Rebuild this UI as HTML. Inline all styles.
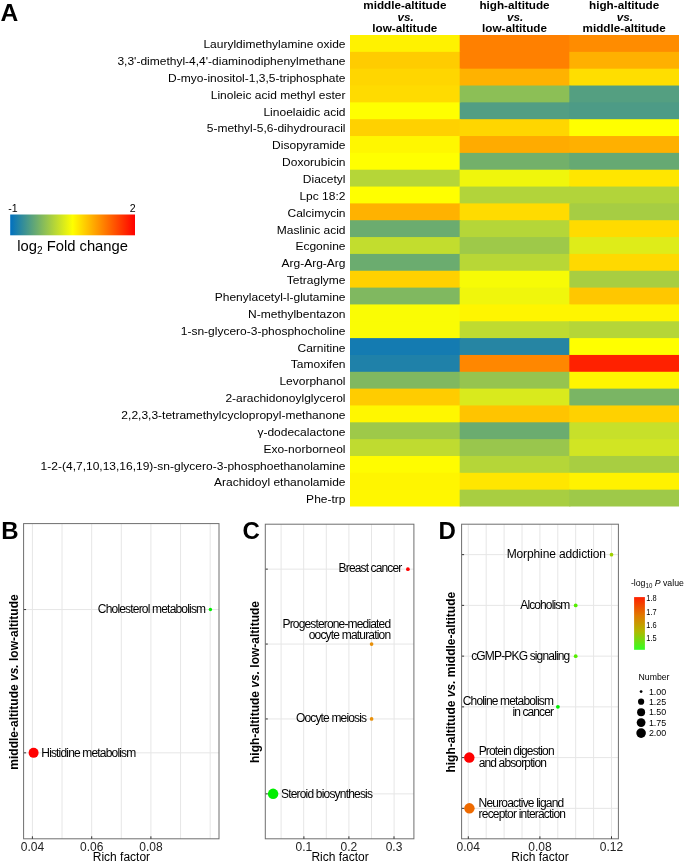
<!DOCTYPE html>
<html><head><meta charset="utf-8"><title>Figure</title>
<style>html,body{margin:0;padding:0;background:#fff;}svg{display:block;}text{font-family:"Liberation Sans", Arial, Helvetica, sans-serif;}</style>
</head><body>
<svg width="685" height="863" viewBox="0 0 685 863">
<rect width="685" height="863" fill="#fff"/>
<text x="0.60" y="21.00" font-size="24.6" font-weight="bold">A</text>
<text x="404.83" y="9.20" font-size="11.7" text-anchor="middle" font-weight="bold">middle-altitude</text>
<text x="405.53" y="21.20" font-size="11.7" text-anchor="middle" font-weight="bold" font-style="italic">vs.</text>
<text x="404.83" y="31.70" font-size="11.7" text-anchor="middle" font-weight="bold">low-altitude</text>
<text x="514.50" y="9.20" font-size="11.7" text-anchor="middle" font-weight="bold">high-altitude</text>
<text x="515.20" y="21.20" font-size="11.7" text-anchor="middle" font-weight="bold" font-style="italic">vs.</text>
<text x="514.50" y="31.70" font-size="11.7" text-anchor="middle" font-weight="bold">low-altitude</text>
<text x="624.17" y="9.20" font-size="11.7" text-anchor="middle" font-weight="bold">high-altitude</text>
<text x="624.87" y="21.20" font-size="11.7" text-anchor="middle" font-weight="bold" font-style="italic">vs.</text>
<text x="624.17" y="31.70" font-size="11.7" text-anchor="middle" font-weight="bold">middle-altitude</text>
<rect x="350.00" y="35.00" width="110.67" height="17.84" fill="#fff200"/>
<rect x="459.67" y="35.00" width="110.67" height="17.84" fill="#ff8000"/>
<rect x="569.33" y="35.00" width="109.67" height="17.84" fill="#ff8c00"/>
<rect x="350.00" y="51.84" width="110.67" height="17.84" fill="#ffcc00"/>
<rect x="459.67" y="51.84" width="110.67" height="17.84" fill="#ff8000"/>
<rect x="569.33" y="51.84" width="109.67" height="17.84" fill="#ffb000"/>
<rect x="350.00" y="68.68" width="110.67" height="17.84" fill="#ffd600"/>
<rect x="459.67" y="68.68" width="110.67" height="17.84" fill="#ffb200"/>
<rect x="569.33" y="68.68" width="109.67" height="17.84" fill="#ffde00"/>
<rect x="350.00" y="85.52" width="110.67" height="17.84" fill="#ffdb00"/>
<rect x="459.67" y="85.52" width="110.67" height="17.84" fill="#8cbf56"/>
<rect x="569.33" y="85.52" width="109.67" height="17.84" fill="#549f81"/>
<rect x="350.00" y="102.36" width="110.67" height="17.84" fill="#ffff00"/>
<rect x="459.67" y="102.36" width="110.67" height="17.84" fill="#529e83"/>
<rect x="569.33" y="102.36" width="109.67" height="17.84" fill="#4d9b86"/>
<rect x="350.00" y="119.20" width="110.67" height="17.84" fill="#ffd100"/>
<rect x="459.67" y="119.20" width="110.67" height="17.84" fill="#ffd600"/>
<rect x="569.33" y="119.20" width="109.67" height="17.84" fill="#ffff00"/>
<rect x="350.00" y="136.04" width="110.67" height="17.84" fill="#fff700"/>
<rect x="459.67" y="136.04" width="110.67" height="17.84" fill="#ffab00"/>
<rect x="569.33" y="136.04" width="109.67" height="17.84" fill="#ffb000"/>
<rect x="350.00" y="152.88" width="110.67" height="17.84" fill="#ffff00"/>
<rect x="459.67" y="152.88" width="110.67" height="17.84" fill="#73b06a"/>
<rect x="569.33" y="152.88" width="109.67" height="17.84" fill="#66a973"/>
<rect x="350.00" y="169.71" width="110.67" height="17.84" fill="#b5d638"/>
<rect x="459.67" y="169.71" width="110.67" height="17.84" fill="#f0f60c"/>
<rect x="569.33" y="169.71" width="109.67" height="17.84" fill="#ffe600"/>
<rect x="350.00" y="186.55" width="110.67" height="17.84" fill="#ffff00"/>
<rect x="459.67" y="186.55" width="110.67" height="17.84" fill="#b2d43a"/>
<rect x="569.33" y="186.55" width="109.67" height="17.84" fill="#b2d43a"/>
<rect x="350.00" y="203.39" width="110.67" height="17.84" fill="#ffb200"/>
<rect x="459.67" y="203.39" width="110.67" height="17.84" fill="#ffdb00"/>
<rect x="569.33" y="203.39" width="109.67" height="17.84" fill="#a6cd43"/>
<rect x="350.00" y="220.23" width="110.67" height="17.84" fill="#6bac6f"/>
<rect x="459.67" y="220.23" width="110.67" height="17.84" fill="#b5d638"/>
<rect x="569.33" y="220.23" width="109.67" height="17.84" fill="#ffdb00"/>
<rect x="350.00" y="237.07" width="110.67" height="17.84" fill="#c2dd2e"/>
<rect x="459.67" y="237.07" width="110.67" height="17.84" fill="#9ec949"/>
<rect x="569.33" y="237.07" width="109.67" height="17.84" fill="#deec19"/>
<rect x="350.00" y="253.91" width="110.67" height="17.84" fill="#6bac6f"/>
<rect x="459.67" y="253.91" width="110.67" height="17.84" fill="#b8d736"/>
<rect x="569.33" y="253.91" width="109.67" height="17.84" fill="#ffd900"/>
<rect x="350.00" y="270.75" width="110.67" height="17.84" fill="#ffd100"/>
<rect x="459.67" y="270.75" width="110.67" height="17.84" fill="#f7fb06"/>
<rect x="569.33" y="270.75" width="109.67" height="17.84" fill="#a8ce41"/>
<rect x="350.00" y="287.59" width="110.67" height="17.84" fill="#80b860"/>
<rect x="459.67" y="287.59" width="110.67" height="17.84" fill="#f0f60c"/>
<rect x="569.33" y="287.59" width="109.67" height="17.84" fill="#ffc700"/>
<rect x="350.00" y="304.43" width="110.67" height="17.84" fill="#fafc04"/>
<rect x="459.67" y="304.43" width="110.67" height="17.84" fill="#fff500"/>
<rect x="569.33" y="304.43" width="109.67" height="17.84" fill="#fff500"/>
<rect x="350.00" y="321.27" width="110.67" height="17.84" fill="#fafc04"/>
<rect x="459.67" y="321.27" width="110.67" height="17.84" fill="#bfdb30"/>
<rect x="569.33" y="321.27" width="109.67" height="17.84" fill="#b5d638"/>
<rect x="350.00" y="338.11" width="110.67" height="17.84" fill="#147bb1"/>
<rect x="459.67" y="338.11" width="110.67" height="17.84" fill="#2685a3"/>
<rect x="569.33" y="338.11" width="109.67" height="17.84" fill="#ffff00"/>
<rect x="350.00" y="354.95" width="110.67" height="17.84" fill="#1f81a9"/>
<rect x="459.67" y="354.95" width="110.67" height="17.84" fill="#ff8700"/>
<rect x="569.33" y="354.95" width="109.67" height="17.84" fill="#ff2100"/>
<rect x="350.00" y="371.79" width="110.67" height="17.84" fill="#80b860"/>
<rect x="459.67" y="371.79" width="110.67" height="17.84" fill="#96c44f"/>
<rect x="569.33" y="371.79" width="109.67" height="17.84" fill="#fff500"/>
<rect x="350.00" y="388.62" width="110.67" height="17.84" fill="#ffcc00"/>
<rect x="459.67" y="388.62" width="110.67" height="17.84" fill="#d9ea1d"/>
<rect x="569.33" y="388.62" width="109.67" height="17.84" fill="#7ab564"/>
<rect x="350.00" y="405.46" width="110.67" height="17.84" fill="#fff700"/>
<rect x="459.67" y="405.46" width="110.67" height="17.84" fill="#ffc400"/>
<rect x="569.33" y="405.46" width="109.67" height="17.84" fill="#ffd100"/>
<rect x="350.00" y="422.30" width="110.67" height="17.84" fill="#9ec949"/>
<rect x="459.67" y="422.30" width="110.67" height="17.84" fill="#6bac6f"/>
<rect x="569.33" y="422.30" width="109.67" height="17.84" fill="#c7e02a"/>
<rect x="350.00" y="439.14" width="110.67" height="17.84" fill="#bfdb30"/>
<rect x="459.67" y="439.14" width="110.67" height="17.84" fill="#99c64d"/>
<rect x="569.33" y="439.14" width="109.67" height="17.84" fill="#d1e523"/>
<rect x="350.00" y="455.98" width="110.67" height="17.84" fill="#fffc00"/>
<rect x="459.67" y="455.98" width="110.67" height="17.84" fill="#b5d638"/>
<rect x="569.33" y="455.98" width="109.67" height="17.84" fill="#a8ce41"/>
<rect x="350.00" y="472.82" width="110.67" height="17.84" fill="#fff500"/>
<rect x="459.67" y="472.82" width="110.67" height="17.84" fill="#ffe600"/>
<rect x="569.33" y="472.82" width="109.67" height="17.84" fill="#fff200"/>
<rect x="350.00" y="489.66" width="110.67" height="16.84" fill="#fff700"/>
<rect x="459.67" y="489.66" width="110.67" height="16.84" fill="#a8ce41"/>
<rect x="569.33" y="489.66" width="109.67" height="16.84" fill="#9ec949"/>
<text x="345.50" y="48.12" font-size="11" text-anchor="end" textLength="142.08" lengthAdjust="spacingAndGlyphs">Lauryldimethylamine oxide</text>
<text x="345.50" y="64.98" font-size="11" text-anchor="end" textLength="228.05" lengthAdjust="spacingAndGlyphs">3,3'-dimethyl-4,4'-diaminodiphenylmethane</text>
<text x="345.50" y="81.83" font-size="11" text-anchor="end" textLength="177.42" lengthAdjust="spacingAndGlyphs">D-myo-inositol-1,3,5-triphosphate</text>
<text x="345.50" y="98.69" font-size="11" text-anchor="end" textLength="134.73" lengthAdjust="spacingAndGlyphs">Linoleic acid methyl ester</text>
<text x="345.50" y="115.54" font-size="11" text-anchor="end" textLength="82.06" lengthAdjust="spacingAndGlyphs">Linoelaidic acid</text>
<text x="345.50" y="132.40" font-size="11" text-anchor="end" textLength="138.73" lengthAdjust="spacingAndGlyphs">5-methyl-5,6-dihydrouracil</text>
<text x="345.50" y="149.26" font-size="11" text-anchor="end" textLength="73.36" lengthAdjust="spacingAndGlyphs">Disopyramide</text>
<text x="345.50" y="166.11" font-size="11" text-anchor="end" textLength="63.38" lengthAdjust="spacingAndGlyphs">Doxorubicin</text>
<text x="345.50" y="182.97" font-size="11" text-anchor="end" textLength="42.69" lengthAdjust="spacingAndGlyphs">Diacetyl</text>
<text x="345.50" y="199.83" font-size="11" text-anchor="end" textLength="46.05" lengthAdjust="spacingAndGlyphs">Lpc 18:2</text>
<text x="345.50" y="216.68" font-size="11" text-anchor="end" textLength="58.02" lengthAdjust="spacingAndGlyphs">Calcimycin</text>
<text x="345.50" y="233.54" font-size="11" text-anchor="end" textLength="68.70" lengthAdjust="spacingAndGlyphs">Maslinic acid</text>
<text x="345.50" y="250.40" font-size="11" text-anchor="end" textLength="50.05" lengthAdjust="spacingAndGlyphs">Ecgonine</text>
<text x="345.50" y="267.25" font-size="11" text-anchor="end" textLength="64.02" lengthAdjust="spacingAndGlyphs">Arg-Arg-Arg</text>
<text x="345.50" y="284.11" font-size="11" text-anchor="end" textLength="58.69" lengthAdjust="spacingAndGlyphs">Tetraglyme</text>
<text x="345.50" y="300.96" font-size="11" text-anchor="end" textLength="130.73" lengthAdjust="spacingAndGlyphs">Phenylacetyl-l-glutamine</text>
<text x="345.50" y="317.82" font-size="11" text-anchor="end" textLength="97.39" lengthAdjust="spacingAndGlyphs">N-methylbentazon</text>
<text x="345.50" y="334.68" font-size="11" text-anchor="end" textLength="164.77" lengthAdjust="spacingAndGlyphs">1-sn-glycero-3-phosphocholine</text>
<text x="345.50" y="351.53" font-size="11" text-anchor="end" textLength="48.03" lengthAdjust="spacingAndGlyphs">Carnitine</text>
<text x="345.50" y="368.39" font-size="11" text-anchor="end" textLength="54.70" lengthAdjust="spacingAndGlyphs">Tamoxifen</text>
<text x="345.50" y="385.25" font-size="11" text-anchor="end" textLength="66.06" lengthAdjust="spacingAndGlyphs">Levorphanol</text>
<text x="345.50" y="402.10" font-size="11" text-anchor="end" textLength="120.08" lengthAdjust="spacingAndGlyphs">2-arachidonoylglycerol</text>
<text x="345.50" y="418.96" font-size="11" text-anchor="end" textLength="224.12" lengthAdjust="spacingAndGlyphs">2,2,3,3-tetramethylcyclopropyl-methanone</text>
<text x="345.50" y="435.81" font-size="11" text-anchor="end" textLength="88.06" lengthAdjust="spacingAndGlyphs">γ-dodecalactone</text>
<text x="345.50" y="452.67" font-size="11" text-anchor="end" textLength="82.06" lengthAdjust="spacingAndGlyphs">Exo-norborneol</text>
<text x="345.50" y="469.53" font-size="11" text-anchor="end" textLength="304.86" lengthAdjust="spacingAndGlyphs">1-2-(4,7,10,13,16,19)-sn-glycero-3-phosphoethanolamine</text>
<text x="345.50" y="486.38" font-size="11" text-anchor="end" textLength="131.42" lengthAdjust="spacingAndGlyphs">Arachidoyl ethanolamide</text>
<text x="345.50" y="503.24" font-size="11" text-anchor="end" textLength="39.36" lengthAdjust="spacingAndGlyphs">Phe-trp</text>
<defs><linearGradient id="cb" x1="0" x2="1" y1="0" y2="0"><stop offset="0" stop-color="#0070C0"/><stop offset="0.5" stop-color="#FFFF00"/><stop offset="1" stop-color="#FF0000"/></linearGradient><linearGradient id="pv" x1="0" x2="0" y1="0" y2="1"><stop offset="0" stop-color="#FF2000"/><stop offset="0.35" stop-color="#E07A00"/><stop offset="0.65" stop-color="#B0B800"/><stop offset="1" stop-color="#33FF22"/></linearGradient></defs>
<rect x="10.2" y="214.5" width="124.8" height="20.8" fill="url(#cb)"/>
<text x="8.20" y="211.60" font-size="10.6">-1</text>
<text x="135.70" y="211.60" font-size="10.6" text-anchor="end">2</text>
<text x="17.2" y="250.8" font-size="14.6" textLength="110.8" lengthAdjust="spacingAndGlyphs">log<tspan font-size="10" dy="3.6">2</tspan><tspan dy="-3.6"> Fold change</tspan></text>
<text x="1.30" y="538.60" font-size="24" font-weight="bold">B</text>
<line x1="32.40" y1="523.6" x2="32.40" y2="838.8" stroke="#e6e6e6" stroke-width="1"/>
<line x1="62.03" y1="523.6" x2="62.03" y2="838.8" stroke="#e6e6e6" stroke-width="1"/>
<line x1="91.66" y1="523.6" x2="91.66" y2="838.8" stroke="#e6e6e6" stroke-width="1"/>
<line x1="121.29" y1="523.6" x2="121.29" y2="838.8" stroke="#e6e6e6" stroke-width="1"/>
<line x1="150.92" y1="523.6" x2="150.92" y2="838.8" stroke="#e6e6e6" stroke-width="1"/>
<line x1="180.55" y1="523.6" x2="180.55" y2="838.8" stroke="#e6e6e6" stroke-width="1"/>
<line x1="210.18" y1="523.6" x2="210.18" y2="838.8" stroke="#e6e6e6" stroke-width="1"/>
<line x1="23.6" y1="609.56" x2="219.0" y2="609.56" stroke="#e6e6e6" stroke-width="1"/>
<line x1="23.6" y1="609.56" x2="26.1" y2="609.56" stroke="#333" stroke-width="1"/>
<line x1="23.6" y1="752.84" x2="219.0" y2="752.84" stroke="#e6e6e6" stroke-width="1"/>
<line x1="23.6" y1="752.84" x2="26.1" y2="752.84" stroke="#333" stroke-width="1"/>
<rect x="23.6" y="523.6" width="195.4" height="315.19999999999993" fill="none" stroke="#6e6e6e" stroke-width="1"/>
<text transform="translate(18,682.0) rotate(-90)" font-size="12" font-weight="bold" text-anchor="middle">middle-altitude <tspan font-style="italic">vs.</tspan> low-altitude</text>
<text x="32.40" y="850.50" font-size="12" text-anchor="middle" fill="#222">0.04</text>
<line x1="32.4" y1="836.3" x2="32.4" y2="838.8" stroke="#333" stroke-width="1"/>
<text x="91.70" y="850.50" font-size="12" text-anchor="middle" fill="#222">0.06</text>
<line x1="91.7" y1="836.3" x2="91.7" y2="838.8" stroke="#333" stroke-width="1"/>
<text x="150.90" y="850.50" font-size="12" text-anchor="middle" fill="#222">0.08</text>
<line x1="150.9" y1="836.3" x2="150.9" y2="838.8" stroke="#333" stroke-width="1"/>
<text x="121.40" y="861.30" font-size="12" text-anchor="middle">Rich factor</text>
<circle cx="33.6" cy="752.84" r="5.0" fill="#FF0000"/>
<circle cx="210.4" cy="609.56" r="1.7" fill="#00EE00"/>
<text x="97.80" y="612.50" font-size="12" textLength="108.3" lengthAdjust="spacing">Cholesterol metabolism</text>
<text x="41.30" y="756.80" font-size="12" textLength="94.9" lengthAdjust="spacing">Histidine metabolism</text>
<text x="242.40" y="538.60" font-size="24" font-weight="bold">C</text>
<line x1="281.10" y1="524.2" x2="281.10" y2="838.8" stroke="#e6e6e6" stroke-width="1"/>
<line x1="303.70" y1="524.2" x2="303.70" y2="838.8" stroke="#e6e6e6" stroke-width="1"/>
<line x1="326.30" y1="524.2" x2="326.30" y2="838.8" stroke="#e6e6e6" stroke-width="1"/>
<line x1="348.90" y1="524.2" x2="348.90" y2="838.8" stroke="#e6e6e6" stroke-width="1"/>
<line x1="371.50" y1="524.2" x2="371.50" y2="838.8" stroke="#e6e6e6" stroke-width="1"/>
<line x1="394.10" y1="524.2" x2="394.10" y2="838.8" stroke="#e6e6e6" stroke-width="1"/>
<line x1="265.3" y1="569.14" x2="413.9" y2="569.14" stroke="#e6e6e6" stroke-width="1"/>
<line x1="265.3" y1="569.14" x2="267.8" y2="569.14" stroke="#333" stroke-width="1"/>
<line x1="265.3" y1="644.05" x2="413.9" y2="644.05" stroke="#e6e6e6" stroke-width="1"/>
<line x1="265.3" y1="644.05" x2="267.8" y2="644.05" stroke="#333" stroke-width="1"/>
<line x1="265.3" y1="718.95" x2="413.9" y2="718.95" stroke="#e6e6e6" stroke-width="1"/>
<line x1="265.3" y1="718.95" x2="267.8" y2="718.95" stroke="#333" stroke-width="1"/>
<line x1="265.3" y1="793.86" x2="413.9" y2="793.86" stroke="#e6e6e6" stroke-width="1"/>
<line x1="265.3" y1="793.86" x2="267.8" y2="793.86" stroke="#333" stroke-width="1"/>
<rect x="265.3" y="524.2" width="148.59999999999997" height="314.5999999999999" fill="none" stroke="#6e6e6e" stroke-width="1"/>
<text transform="translate(258.9,682.0) rotate(-90)" font-size="12" font-weight="bold" text-anchor="middle">high-altitude <tspan font-style="italic">vs.</tspan> low-altitude</text>
<text x="303.90" y="850.50" font-size="12" text-anchor="middle" fill="#222">0.1</text>
<line x1="303.9" y1="836.3" x2="303.9" y2="838.8" stroke="#333" stroke-width="1"/>
<text x="348.90" y="850.50" font-size="12" text-anchor="middle" fill="#222">0.2</text>
<line x1="348.9" y1="836.3" x2="348.9" y2="838.8" stroke="#333" stroke-width="1"/>
<text x="394.00" y="850.50" font-size="12" text-anchor="middle" fill="#222">0.3</text>
<line x1="394" y1="836.3" x2="394" y2="838.8" stroke="#333" stroke-width="1"/>
<text x="340.10" y="861.30" font-size="12" text-anchor="middle">Rich factor</text>
<circle cx="407.9" cy="569.14" r="1.85" fill="#FF0000"/>
<circle cx="371.6" cy="644.05" r="1.85" fill="#E8900A"/>
<circle cx="371.6" cy="718.95" r="1.85" fill="#E8900A"/>
<circle cx="273.1" cy="793.86" r="5.25" fill="#00EE00"/>
<text x="338.60" y="572.10" font-size="12" textLength="63.7" lengthAdjust="spacing">Breast cancer</text>
<text x="282.50" y="627.70" font-size="12" textLength="108.6" lengthAdjust="spacing">Progesterone-mediated</text>
<text x="308.70" y="639.00" font-size="12" textLength="82.4" lengthAdjust="spacing">oocyte maturation</text>
<text x="296.00" y="722.00" font-size="12" textLength="71" lengthAdjust="spacing">Oocyte meiosis</text>
<text x="281.00" y="797.90" font-size="12" textLength="91.9" lengthAdjust="spacing">Steroid biosynthesis</text>
<text x="438.50" y="538.60" font-size="24" font-weight="bold">D</text>
<line x1="468.30" y1="524.2" x2="468.30" y2="838.8" stroke="#e6e6e6" stroke-width="1"/>
<line x1="486.20" y1="524.2" x2="486.20" y2="838.8" stroke="#e6e6e6" stroke-width="1"/>
<line x1="504.10" y1="524.2" x2="504.10" y2="838.8" stroke="#e6e6e6" stroke-width="1"/>
<line x1="522.00" y1="524.2" x2="522.00" y2="838.8" stroke="#e6e6e6" stroke-width="1"/>
<line x1="539.90" y1="524.2" x2="539.90" y2="838.8" stroke="#e6e6e6" stroke-width="1"/>
<line x1="557.80" y1="524.2" x2="557.80" y2="838.8" stroke="#e6e6e6" stroke-width="1"/>
<line x1="575.70" y1="524.2" x2="575.70" y2="838.8" stroke="#e6e6e6" stroke-width="1"/>
<line x1="593.60" y1="524.2" x2="593.60" y2="838.8" stroke="#e6e6e6" stroke-width="1"/>
<line x1="611.50" y1="524.2" x2="611.50" y2="838.8" stroke="#e6e6e6" stroke-width="1"/>
<line x1="461.6" y1="554.65" x2="618.4" y2="554.65" stroke="#e6e6e6" stroke-width="1"/>
<line x1="461.6" y1="554.65" x2="464.1" y2="554.65" stroke="#333" stroke-width="1"/>
<line x1="461.6" y1="605.39" x2="618.4" y2="605.39" stroke="#e6e6e6" stroke-width="1"/>
<line x1="461.6" y1="605.39" x2="464.1" y2="605.39" stroke="#333" stroke-width="1"/>
<line x1="461.6" y1="656.13" x2="618.4" y2="656.13" stroke="#e6e6e6" stroke-width="1"/>
<line x1="461.6" y1="656.13" x2="464.1" y2="656.13" stroke="#333" stroke-width="1"/>
<line x1="461.6" y1="706.87" x2="618.4" y2="706.87" stroke="#e6e6e6" stroke-width="1"/>
<line x1="461.6" y1="706.87" x2="464.1" y2="706.87" stroke="#333" stroke-width="1"/>
<line x1="461.6" y1="757.61" x2="618.4" y2="757.61" stroke="#e6e6e6" stroke-width="1"/>
<line x1="461.6" y1="757.61" x2="464.1" y2="757.61" stroke="#333" stroke-width="1"/>
<line x1="461.6" y1="808.35" x2="618.4" y2="808.35" stroke="#e6e6e6" stroke-width="1"/>
<line x1="461.6" y1="808.35" x2="464.1" y2="808.35" stroke="#333" stroke-width="1"/>
<rect x="461.6" y="524.2" width="156.79999999999995" height="314.5999999999999" fill="none" stroke="#6e6e6e" stroke-width="1"/>
<text transform="translate(455,682.2) rotate(-90)" font-size="12" font-weight="bold" text-anchor="middle">high-altitude <tspan font-style="italic">vs.</tspan> middle-altitude</text>
<text x="468.30" y="850.50" font-size="12" text-anchor="middle" fill="#222">0.04</text>
<line x1="468.3" y1="836.3" x2="468.3" y2="838.8" stroke="#333" stroke-width="1"/>
<text x="539.90" y="850.50" font-size="12" text-anchor="middle" fill="#222">0.08</text>
<line x1="539.9" y1="836.3" x2="539.9" y2="838.8" stroke="#333" stroke-width="1"/>
<text x="611.50" y="850.50" font-size="12" text-anchor="middle" fill="#222">0.12</text>
<line x1="611.5" y1="836.3" x2="611.5" y2="838.8" stroke="#333" stroke-width="1"/>
<text x="540.00" y="861.30" font-size="12" text-anchor="middle">Rich factor</text>
<circle cx="611.5" cy="554.65" r="1.85" fill="#A0D000"/>
<circle cx="575.7" cy="605.39" r="1.9" fill="#55EE00"/>
<circle cx="575.7" cy="656.13" r="1.9" fill="#55EE00"/>
<circle cx="557.9" cy="706.87" r="1.9" fill="#00EE00"/>
<circle cx="469.3" cy="757.61" r="5.25" fill="#FF0000"/>
<circle cx="469.4" cy="808.35" r="5.25" fill="#EE6A00"/>
<text x="506.70" y="558.40" font-size="12" textLength="99.3" lengthAdjust="spacing">Morphine addiction</text>
<text x="520.30" y="608.80" font-size="12" textLength="50" lengthAdjust="spacing">Alcoholism</text>
<text x="471.20" y="660.00" font-size="12" textLength="99.1" lengthAdjust="spacing">cGMP-PKG signaling</text>
<text x="462.80" y="704.50" font-size="12" textLength="91.1" lengthAdjust="spacing">Choline metabolism</text>
<text x="512.60" y="715.50" font-size="12" textLength="41.3" lengthAdjust="spacing">in cancer</text>
<text x="478.70" y="755.00" font-size="12" textLength="75.9" lengthAdjust="spacing">Protein digestion</text>
<text x="478.70" y="766.70" font-size="12" textLength="68.2" lengthAdjust="spacing">and absorption</text>
<text x="478.60" y="806.60" font-size="12" textLength="85.6" lengthAdjust="spacing">Neuroactive ligand</text>
<text x="478.60" y="817.80" font-size="12" textLength="87.4" lengthAdjust="spacing">receptor interaction</text>
<text x="630.9" y="585.9" font-size="9.3" textLength="53" lengthAdjust="spacingAndGlyphs">-log<tspan font-size="6.5" dy="2">10</tspan><tspan dy="-2"> </tspan><tspan font-style="italic">P</tspan> value</text>
<rect x="634.1" y="597.1" width="10.8" height="52.7" fill="url(#pv)"/>
<text x="646.30" y="601.40" font-size="8.6" textLength="10.3" lengthAdjust="spacingAndGlyphs">1.8</text>
<text x="646.30" y="614.70" font-size="8.6" textLength="10.3" lengthAdjust="spacingAndGlyphs">1.7</text>
<text x="646.30" y="628.00" font-size="8.6" textLength="10.3" lengthAdjust="spacingAndGlyphs">1.6</text>
<text x="646.30" y="641.30" font-size="8.6" textLength="10.3" lengthAdjust="spacingAndGlyphs">1.5</text>
<text x="638.50" y="680.10" font-size="8.5" textLength="31" lengthAdjust="spacingAndGlyphs">Number</text>
<circle cx="641.1" cy="691.6" r="1.4" fill="#000"/>
<text x="648.90" y="694.60" font-size="8.5" textLength="17.3" lengthAdjust="spacingAndGlyphs">1.00</text>
<circle cx="641.1" cy="701.7" r="3.1" fill="#000"/>
<text x="648.90" y="704.70" font-size="8.5" textLength="17.3" lengthAdjust="spacingAndGlyphs">1.25</text>
<circle cx="641.1" cy="712.2" r="4.0" fill="#000"/>
<text x="648.90" y="715.20" font-size="8.5" textLength="17.3" lengthAdjust="spacingAndGlyphs">1.50</text>
<circle cx="641.1" cy="722.6" r="4.4" fill="#000"/>
<text x="648.90" y="725.60" font-size="8.5" textLength="17.3" lengthAdjust="spacingAndGlyphs">1.75</text>
<circle cx="641.1" cy="733.1" r="4.8" fill="#000"/>
<text x="648.90" y="736.10" font-size="8.5" textLength="17.3" lengthAdjust="spacingAndGlyphs">2.00</text>
</svg>
</body></html>
